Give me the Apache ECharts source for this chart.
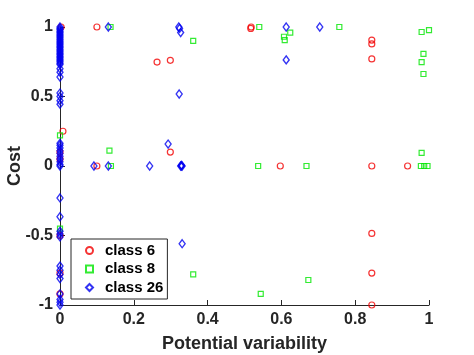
<!DOCTYPE html>
<html>
<head>
<meta charset="utf-8">
<script src="https://cdn.jsdelivr.net/npm/echarts@6/dist/echarts.min.js"></script>
<style>html,body{margin:0;padding:0;background:#fff;}#c{width:474px;height:355px;}</style>
</head>
<body>
<div id="c"></div>
<script>
const xTicks = [0, 0.2, 0.4, 0.6, 0.8, 1];
const yTicks = [-1, -0.5, 0, 0.5, 1];
const seriesNames = ['class 6', 'class 8', 'class 26'];

const class6 = [
  [0.003, 1.0], [0.1, 1.0], [0.263, 0.748], [0.299, 0.76], [0.299, 0.10],
  [0.517, 0.99], [0.518, 1.0], [0.845, 0.906], [0.845, 0.878], [0.845, 0.77],
  [0.1, 0], [0.597, 0], [0.845, 0], [0.942, 0],
  [0.845, -0.485], [0.845, -0.77], [0.845, -1.0],
  [0.008, 0.25], [0, 0.10], [0, 0.05], [0, -0.50], [0, -0.77], [0, -0.92]
];

const class8 = [
  [0.137, 1.0], [0.361, 0.90], [0.54, 1.0], [0.607, 0.93], [0.624, 0.96], [0.609, 0.906],
  [0.757, 1.0], [0.98, 0.964], [1.0, 0.978], [0.985, 0.806], [0.98, 0.748], [0.985, 0.662],
  [0.98, 0.094], [0.134, 0.11], [0, 0.22],
  [0.138, 0], [0.537, 0], [0.668, 0], [0.978, 0], [0.987, 0], [0.996, 0],
  [0.361, -0.78], [0.544, -0.92], [0.673, -0.82], [0, -0.45]
];

const class26 = [
  [0.131, 1.0], [0.322, 1.0], [0.324, 0.99], [0.327, 0.96], [0.323, 0.518],
  [0.293, 0.158], [0.243, 0], [0.092, 0], [0.131, 0], [0.327, 0], [0.329, 0], [0.331, 0],
  [0.329, 0.005], [0.613, 1.0], [0.704, 1.0], [0.613, 0.763], [0.331, -0.559],
  [0, 1.0], [0, 0.99], [0, 0.98], [0, 0.97], [0, 0.96], [0, 0.95], [0, 0.94], [0, 0.93],
  [0, 0.92], [0, 0.91], [0, 0.90], [0, 0.89], [0, 0.88], [0, 0.87], [0, 0.86], [0, 0.85],
  [0, 0.84], [0, 0.83], [0, 0.82], [0, 0.81], [0, 0.80], [0, 0.79], [0, 0.78], [0, 0.77],
  [0, 0.76], [0, 0.75], [0, 0.74], [0, 0.73], [0, 0.70], [0, 0.675], [0, 0.64],
  [0, 0.525], [0, 0.50], [0, 0.47], [0, 0.445],
  [0, 0.163], [0, 0.15], [0, 0.13], [0, 0.11], [0, 0.09], [0, 0.07], [0, 0.05],
  [0, 0.03], [0, 0.01], [0, 0],
  [0, -0.23], [0, -0.365], [0, -0.47], [0, -0.49], [0, -0.51],
  [0, -0.72], [0, -0.75], [0, -0.78], [0, -0.81],
  [0, -0.92], [0, -0.96], [0, -0.98], [0, -1.0]
];

const chart = echarts.init(document.getElementById('c'), null, {renderer: 'canvas'});
const axisColor = '#262626';
const font = 'Liberation Sans, Arial, Helvetica, sans-serif';

function hollow(color, w) {
  return {color: 'rgba(255,255,255,0)', borderColor: color, borderWidth: w};
}

chart.setOption({
  animation: false,
  backgroundColor: '#fff',
  grid: {left: 60, right: 45, top: 27, bottom: 50, containLabel: false, outerBoundsMode: 'none'},
  legend: {
    orient: 'vertical',
    left: 71, top: 239,
    data: seriesNames,
    backgroundColor: '#fff',
    borderColor: axisColor, borderWidth: 1,
    padding: [4, 4, 4, 14],
    itemGap: 3.5,
    itemWidth: 7, itemHeight: 7,
    textStyle: {fontFamily: font, fontSize: 15, fontWeight: 'bold', color: '#000', padding: [0, 0, 0, 7]}
  },
  xAxis: {
    type: 'value', min: 0, max: 1, interval: 0.2,
    name: 'Potential variability', nameLocation: 'middle', nameGap: 30, nameMoveOverlap: false,
    nameTextStyle: {fontFamily: font, fontSize: 18, fontWeight: 'bold', color: axisColor},
    axisLine: {onZero: false, lineStyle: {color: axisColor, width: 1}},
    axisTick: {inside: true, length: 5, lineStyle: {color: axisColor}},
    axisLabel: {fontFamily: font, fontSize: 16, fontWeight: 'bold', color: axisColor, margin: 7,
      formatter: v => String(xTicks.find(t => Math.abs(t - v) < 1e-9) ?? v)},
    splitLine: {show: false}
  },
  yAxis: {
    type: 'value', min: -1, max: 1, interval: 0.5,
    name: 'Cost', nameLocation: 'middle', nameGap: 36, nameMoveOverlap: false,
    nameTextStyle: {fontFamily: font, fontSize: 18, fontWeight: 'bold', color: axisColor},
    axisLine: {show: true, onZero: false, lineStyle: {color: axisColor, width: 1}},
    axisTick: {show: true, inside: true, length: 5, lineStyle: {color: axisColor}},
    axisLabel: {fontFamily: font, fontSize: 16, fontWeight: 'bold', color: axisColor, margin: 7,
      formatter: v => String(yTicks.find(t => Math.abs(t - v) < 1e-9) ?? v)},
    splitLine: {show: false}
  },
  series: [
    {name: seriesNames[0], type: 'scatter', data: class6, symbol: 'circle', symbolSize: 6,
      clip: false, itemStyle: hollow('#f20000', 1.2)},
    {name: seriesNames[1], type: 'scatter', data: class8, symbol: 'rect', symbolSize: 5,
      clip: false, itemStyle: hollow('#00e600', 1.2)},
    {name: seriesNames[2], type: 'scatter', data: class26, symbol: 'diamond', symbolSize: [6, 8],
      clip: false, itemStyle: hollow('#0000f0', 1.4)}
  ]
});
</script>
</body>
</html>
